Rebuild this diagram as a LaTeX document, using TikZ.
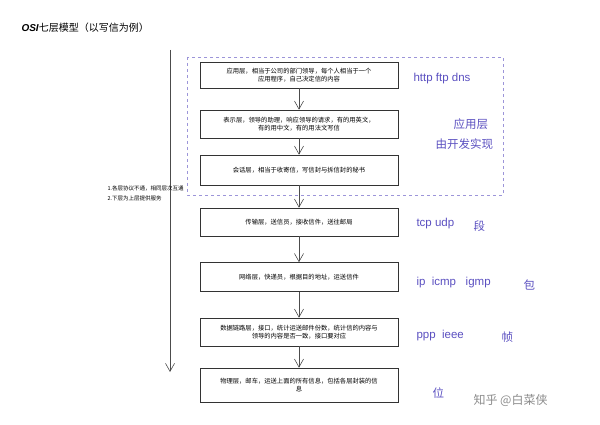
\documentclass[tikz,border=0pt]{standalone}
\usepackage{fontspec}
\setmainfont{Liberation Sans}
\newfontfamily\cjk{Noto Sans CJK SC}
\usetikzlibrary{arrows.meta}
\definecolor{lbl}{HTML}{5A4FC0}
\begin{document}
\begin{tikzpicture}[x=1pt,y=-1pt,
  layer/.style={draw=black!80,line width=0.6pt,minimum width=198pt,align=center,font=\cjk\fontsize{6.3}{8.5}\selectfont,inner sep=2pt},
  conn/.style={draw=black!70,line width=0.6pt,-{Straight Barb[length=8pt,width=9pt]}},
  lab/.style={text=lbl,font=\fontsize{11.5}{13}\selectfont,anchor=west},
  clab/.style={text=lbl,font=\cjk\fontsize{11.5}{13}\selectfont,anchor=west}]
\useasboundingbox (0,0) rectangle (600,425);
\node[anchor=west,font=\fontsize{10}{12}\selectfont] (title) at (18,28) {\textbf{\textit{OSI}}{\cjk 七层模型（以写信为例）}};
\draw[dashed,draw=lbl!60,line width=0.6pt] (187,57) rectangle (503,195);
\node[layer,minimum height=26pt] (l1) at (299,75) {应用层，相当于公司的部门领导，每个人相当于一个\\应用程序，自己决定信的内容};
\node[layer,minimum height=28pt] (l2) at (299,124) {表示层，领导的助理，响应领导的请求，有的用英文，\\有的用中文，有的用法文写信};
\node[layer,minimum height=30pt] (l3) at (299,170) {会话层，相当于收寄信，写信封与拆信封的秘书};
\node[layer,minimum height=28pt] (l4) at (299,222) {传输层，送信员，接收信件，送往邮局};
\node[layer,minimum height=29pt] (l5) at (299,277) {网络层，快递员，根据目的地址，运送信件};
\node[layer,minimum height=28pt] (l6) at (299,332) {数据链路层，接口，统计运送邮件份数，统计信的内容与\\领导的内容是否一致，接口要对应};
\node[layer,minimum height=34pt] (l7) at (299,385) {物理层，邮车，运送上面的所有信息，包括各层封装的信\\息};
\foreach \a/\b in {l1/l2,l2/l3,l3/l4,l4/l5,l5/l6,l6/l7} \draw[conn] (\a) -- (\b);
\coordinate (vt) at (170,50);
\coordinate (vb) at (170,372);
\draw[conn] (vt) -- (vb);
\node[anchor=west,align=left,font=\cjk\fontsize{5.5}{10}\selectfont] (note) at (104,193) {1.各层协议不通，相同层次互通\\2.下层为上层提供服务};
\node[lab] (h1) at (410,79) {http ftp dns};
\node[clab] (h2) at (450,124) {应用层};
\node[clab] (h3) at (432,144) {由开发实现};
\node[lab] (t1) at (413,224) {tcp udp};
\node[clab] (t2) at (470,226) {段};
\node[lab] (i1) at (413,283) {ip\ \ icmp\ \ \ igmp};
\node[clab] (i2) at (520,285) {包};
\node[lab] (p1) at (413,336) {ppp\ \ ieee};
\node[clab] (p2) at (498,337) {帧};
\node[clab] (w1) at (429,393) {位};
\node[anchor=west,text=black!45,font=\cjk\fontsize{12}{14}\selectfont] (wm) at (470,400) {知乎 @白菜侠};
\end{tikzpicture}
\end{document}
